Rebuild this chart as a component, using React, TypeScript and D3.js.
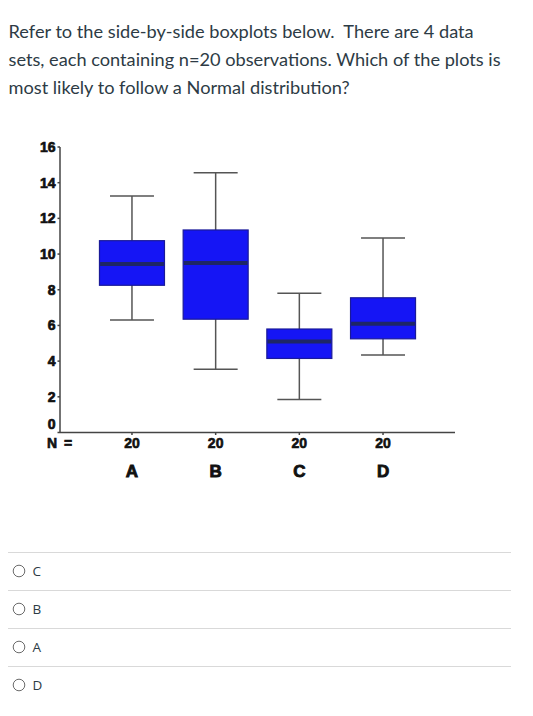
import { useEffect, useRef } from "react";
import * as d3 from "d3";

const categories = ["A", "B", "C", "D"];
const counts = [20, 20, 20, 20];
const whiskerLow = [6.3, 3.55, 1.85, 4.35];
const q1 = [8.25, 6.35, 4.15, 5.25];
const medians = [9.45, 9.5, 5.1, 6.1];
const q3 = [10.75, 11.35, 5.8, 7.55];
const whiskerHigh = [13.25, 14.55, 7.8, 10.9];
const yTicks = [0, 2, 4, 6, 8, 10, 12, 14, 16];

const questionLines = [
  "Refer to the side-by-side boxplots below.  There are 4 data",
  "sets, each containing n=20 observations. Which of the plots is",
  "most likely to follow a Normal distribution?",
];
const choices = ["C", "B", "A", "D"];

const W = 533;
const H = 716;

const App = () => {
  const svgRef = useRef<SVGSVGElement | null>(null);

  useEffect(() => {
    const svg = d3.select(svgRef.current);
    svg.selectAll("*").remove();

    // question text
    svg
      .append("g")
      .selectAll("text")
      .data(questionLines)
      .join("text")
      .attr("x", 8.5)
      .attr("y", (_, i) => 38 + i * 28)
      .attr("font-family", "Lato, sans-serif")
      .attr("font-size", 18.2)
      .attr("fill", "#2d3b45")
      .style("white-space", "pre")
      .text((d) => d);

    const chartFont = "'Liberation Sans', Arial, sans-serif";
    const ink = "#111";

    const x = d3
      .scalePoint<string>()
      .domain(categories)
      .range([60, 455])
      .padding(0.86);

    const y = d3.scaleLinear().domain([0, 16]).range([432.5, 147]);

    const boxW = 65;
    const capW = 44;

    // y axis
    const yAxis = svg.append("g");
    yAxis
      .append("line")
      .attr("x1", 60)
      .attr("x2", 60)
      .attr("y1", y(16))
      .attr("y2", y(0))
      .attr("stroke", "#444")
      .attr("stroke-width", 1.5);
    yAxis
      .selectAll("line.tick")
      .data(yTicks)
      .join("line")
      .attr("class", "tick")
      .attr("x1", 57.5)
      .attr("x2", 60)
      .attr("y1", (d) => y(d))
      .attr("y2", (d) => y(d))
      .attr("stroke", "#444")
      .attr("stroke-width", 1.5);
    yAxis
      .selectAll("text")
      .data(yTicks)
      .join("text")
      .attr("x", 55.5)
      .attr("y", (d) => (d === 0 ? y(d) - 9 : y(d)))
      .attr("dy", "0.36em")
      .attr("text-anchor", "end")
      .attr("font-family", chartFont)
      .attr("font-weight", "bold")
      .attr("font-size", 14)
      .attr("fill", ink)
      .attr("stroke", ink)
      .attr("stroke-width", 0.7)
      .text((d) => d);

    // x axis
    const xAxis = svg.append("g");
    xAxis
      .append("line")
      .attr("x1", 60)
      .attr("x2", 455)
      .attr("y1", y(0))
      .attr("y2", y(0))
      .attr("stroke", "#444")
      .attr("stroke-width", 1.5);
    xAxis
      .selectAll("line.tick")
      .data(categories)
      .join("line")
      .attr("class", "tick")
      .attr("x1", (d) => x(d)!)
      .attr("x2", (d) => x(d)!)
      .attr("y1", y(0))
      .attr("y2", y(0) + 2.5)
      .attr("stroke", "#444")
      .attr("stroke-width", 1.5);
    xAxis
      .append("text")
      .attr("x", 47)
      .attr("y", 448)
      .attr("font-family", chartFont)
      .attr("font-weight", "bold")
      .attr("font-size", 14)
      .attr("word-spacing", 3)
      .attr("fill", ink)
      .attr("stroke", ink)
      .attr("stroke-width", 0.6)
      .text("N =");
    xAxis
      .selectAll("text.n")
      .data(categories)
      .join("text")
      .attr("class", "n")
      .attr("x", (d) => x(d)!)
      .attr("y", 448)
      .attr("text-anchor", "middle")
      .attr("font-family", chartFont)
      .attr("font-weight", "bold")
      .attr("font-size", 14)
      .attr("fill", ink)
      .attr("stroke", ink)
      .attr("stroke-width", 0.6)
      .text((_, i) => counts[i]);
    xAxis
      .selectAll("text.cat")
      .data(categories)
      .join("text")
      .attr("class", "cat")
      .attr("x", (d) => x(d)!)
      .attr("y", 477)
      .attr("text-anchor", "middle")
      .attr("font-family", chartFont)
      .attr("font-weight", "bold")
      .attr("font-size", 17)
      .attr("fill", ink)
      .attr("stroke", ink)
      .attr("stroke-width", 0.9)
      .text((d) => d);

    // boxplots
    const boxes = svg
      .append("g")
      .selectAll("g")
      .data(categories)
      .join("g");

    boxes
      .append("line")
      .attr("x1", (d) => x(d)!)
      .attr("x2", (d) => x(d)!)
      .attr("y1", (_, i) => y(whiskerLow[i]))
      .attr("y2", (_, i) => y(whiskerHigh[i]))
      .attr("stroke", "#555")
      .attr("stroke-width", 1.5);
    boxes
      .append("line")
      .attr("x1", (d) => x(d)! - capW / 2)
      .attr("x2", (d) => x(d)! + capW / 2)
      .attr("y1", (_, i) => y(whiskerHigh[i]))
      .attr("y2", (_, i) => y(whiskerHigh[i]))
      .attr("stroke", "#555")
      .attr("stroke-width", 1.5);
    boxes
      .append("line")
      .attr("x1", (d) => x(d)! - capW / 2)
      .attr("x2", (d) => x(d)! + capW / 2)
      .attr("y1", (_, i) => y(whiskerLow[i]))
      .attr("y2", (_, i) => y(whiskerLow[i]))
      .attr("stroke", "#555")
      .attr("stroke-width", 1.5);
    boxes
      .append("rect")
      .attr("x", (d) => x(d)! - boxW / 2)
      .attr("width", boxW)
      .attr("y", (_, i) => y(q3[i]))
      .attr("height", (_, i) => y(q1[i]) - y(q3[i]))
      .attr("fill", "#1515f5")
      .attr("stroke", "#1a1a99")
      .attr("stroke-width", 1.2);
    boxes
      .append("line")
      .attr("x1", (d) => x(d)! - boxW / 2 + 0.6)
      .attr("x2", (d) => x(d)! + boxW / 2 - 0.6)
      .attr("y1", (_, i) => y(medians[i]))
      .attr("y2", (_, i) => y(medians[i]))
      .attr("stroke", "#1e2666")
      .attr("stroke-width", 4);

    // answer choices
    const rowY = [552.5, 590.5, 628.5, 666.5];
    const rows = svg
      .append("g")
      .selectAll("g")
      .data(choices)
      .join("g")
      .attr("transform", (_, i) => `translate(0,${rowY[i]})`);
    rows
      .append("line")
      .attr("x1", 8)
      .attr("x2", 511)
      .attr("y1", 0)
      .attr("y2", 0)
      .attr("stroke", "#d9d9d9")
      .attr("stroke-width", 1);
    rows
      .append("circle")
      .attr("cx", 19)
      .attr("cy", 18.5)
      .attr("r", 5.8)
      .attr("fill", "#fff")
      .attr("stroke", "#6b6b6b")
      .attr("stroke-width", 1);
    rows
      .append("text")
      .attr("x", 32.5)
      .attr("y", 23.5)
      .attr("font-family", "'Open Sans', sans-serif")
      .attr("font-size", 13.5)
      .attr("fill", "#2d3b45")
      .text((d) => d);
  }, []);

  return (
    <svg
      ref={svgRef}
      width={W}
      height={H}
      viewBox={`0 0 ${W} ${H}`}
      style={{ position: "absolute", left: 0, top: 0, background: "#fff" }}
    />
  );
};

export default App;
